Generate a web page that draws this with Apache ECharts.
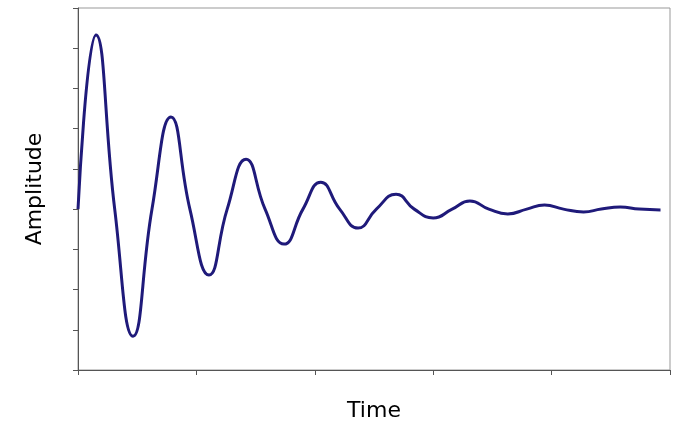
<!DOCTYPE html>
<html><head><meta charset="utf-8">
<script src="https://cdn.jsdelivr.net/npm/echarts@6/dist/echarts.min.js"></script>
<style>html,body{margin:0;background:#fff}#c{width:696px;height:427px}</style>
</head><body><div id="c"></div>
<script>
// values (time, amplitude)
const times = [0, 0.152, 0.31, 0.465, 0.625, 0.785, 0.945, 1.106, 1.26, 1.419, 1.58, 1.74, 1.9, 2.05, 2.21, 2.365, 2.52, 2.686, 2.84, 3.0, 3.16, 3.31, 3.47, 3.63, 3.79, 3.94, 4.1, 4.27, 4.42, 4.58, 4.74, 4.92];
const amps  = [0, 4.33, 0, -3.16, 0, 2.29, 0, -1.64, 0, 1.24, 0, -0.87, 0, 0.67, 0, -0.47, 0, 0.37, 0, -0.22, 0, 0.2, 0, -0.12, 0, 0.1, 0, -0.07, 0, 0.05, 0, -0.02];

const chart = echarts.init(document.getElementById('c'));
chart.setOption({
  animation: false,
  grid: { left: 78, right: 26, top: 8, bottom: 57, show: true, borderColor: '#999', borderWidth: 1 },
  xAxis: {
    type: 'value', min: 0, max: 5, interval: 1,
    name: 'Time', nameLocation: 'middle', nameGap: 30,
    nameTextStyle: { fontSize: 22, color: '#000', fontFamily: 'DejaVu Sans' },
    axisLine: { onZero: false, lineStyle: { color: '#555' } },
    axisTick: { length: 5, lineStyle: { color: '#555' } },
    axisLabel: { show: false }, splitLine: { show: false }
  },
  yAxis: {
    type: 'value', min: -4, max: 5, interval: 1,
    name: 'Amplitude', nameLocation: 'middle', nameGap: 32,
    nameTextStyle: { fontSize: 22, color: '#000', fontFamily: 'DejaVu Sans' },
    axisLine: { show: true, lineStyle: { color: '#555' } },
    axisTick: { show: true, length: 5, lineStyle: { color: '#555' } },
    axisLabel: { show: false }, splitLine: { show: false }
  },
  series: [{
    type: 'line', smooth: 0.5, showSymbol: false,
    data: times.map((t, i) => [t, amps[i]]),
    lineStyle: { color: '#1f1a7a', width: 3 }
  }]
});
</script></body></html>
